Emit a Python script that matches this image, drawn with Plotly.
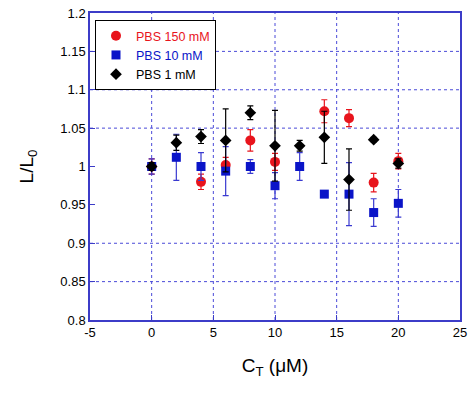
import plotly.graph_objects as go

# Data
conc = [0, 2, 4, 6, 8, 10, 12, 14, 16, 18, 20]

x_150 = [0, 4, 6, 8, 10, 14, 16, 18, 20]
y_150 = [1.000, 0.980, 1.002, 1.034, 1.006, 1.072, 1.063, 0.979, 1.007]
e_150 = [0.010, 0.010, 0.010, 0.014, 0.011, 0.015, 0.011, 0.012, 0.010]

y_10 = [1.000, 1.012, 1.000, 0.994, 1.000, 0.975, 1.000, 0.964, 0.964, 0.940, 0.952]
e_10 = [0.010, 0.030, 0.018, 0.032, 0.009, 0.017, 0.018, 0.003, 0.041, 0.018, 0.018]

y_1 = [1.000, 1.031, 1.039, 1.034, 1.070, 1.027, 1.027, 1.038, 0.983, 1.035, 1.004]
e_1 = [0.005, 0.010, 0.009, 0.041, 0.009, 0.046, 0.007, 0.034, 0.040, 0.003, 0.006]

names = ["PBS 150 mM", "PBS 10 mM", "PBS 1 mM"]
x_ticks = [-5, 0, 5, 10, 15, 20, 25]
x_tick_text = ["-5", "0", "5", "10", "15", "20", "25"]
y_ticks = [0.8, 0.85, 0.9, 0.95, 1.0, 1.05, 1.1, 1.15, 1.2]
y_tick_text = ["0.8", "0.85", "0.9", "0.95", "1", "1.05", "1.1", "1.15", "1.2"]

RED = "#e8141c"
BLUE = "#0a14c8"
BLUE_ERR = "#3a3ad0"
BLACK = "#000000"
AXIS = "#3c3cc8"
GRID = "#4a4ad8"

fig = go.Figure()

fig.add_trace(go.Scatter(
    x=x_150, y=y_150, mode="markers",
    name=f"<span style='color:{RED}'>{names[0]}</span>",
    marker=dict(symbol="circle", size=10, color=RED),
    error_y=dict(type="data", array=e_150, color=RED, thickness=1.2, width=3),
))
fig.add_trace(go.Scatter(
    x=conc, y=y_10, mode="markers",
    name=f"<span style='color:{BLUE}'>{names[1]}</span>",
    marker=dict(symbol="square", size=9, color=BLUE),
    error_y=dict(type="data", array=e_10, color=BLUE_ERR, thickness=1.2, width=3),
))
fig.add_trace(go.Scatter(
    x=conc, y=y_1, mode="markers",
    name=f"<span style='color:{BLACK}'>{names[2]}</span>",
    marker=dict(symbol="diamond", size=9, color=BLACK),
    error_y=dict(type="data", array=e_1, color=BLACK, thickness=1.2, width=3),
))

shapes = []
for gx in [0, 5, 10, 15, 20]:
    shapes.append(dict(type="line", xref="x", yref="paper", x0=gx, x1=gx, y0=0, y1=1,
                       line=dict(color=GRID, width=1, dash="dot"), layer="below"))
for gy in [0.85, 0.9, 1.05, 1.1, 1.15]:
    shapes.append(dict(type="line", xref="paper", yref="y", x0=0, x1=1, y0=gy, y1=gy,
                       line=dict(color=GRID, width=1, dash="dot"), layer="below"))

fig.update_layout(
    width=474, height=395,
    margin=dict(l=90, r=14, t=13, b=75, autoexpand=False),
    paper_bgcolor="white", plot_bgcolor="white",
    font=dict(family="Arial, Liberation Sans, sans-serif", color="black", size=13),
    shapes=shapes,
    showlegend=True,
    legend=dict(x=0.0135, y=0.977, xanchor="left", yanchor="top",
                bgcolor="white", bordercolor="black", borderwidth=1,
                font=dict(size=12.5), tracegroupgap=0, itemwidth=30),
    xaxis=dict(range=[-5, 25], tickvals=x_ticks, ticktext=x_tick_text,
               showgrid=False, zeroline=False, automargin=False,
               showline=True, linecolor=AXIS, linewidth=1.5, mirror=True,
               ticks="inside", tickcolor=AXIS, ticklen=5, ticklabeloverflow="allow",
               title=dict(text="C<sub>T</sub> (μM)", font=dict(size=19), standoff=19)),
    yaxis=dict(range=[0.8, 1.2], tickvals=y_ticks, ticktext=y_tick_text,
               showgrid=False, zeroline=False, automargin=False,
               showline=True, linecolor=AXIS, linewidth=1.5, mirror=True,
               ticks="inside", tickcolor=AXIS, ticklen=5, ticklabeloverflow="allow",
               title=dict(text="L/L<sub>0</sub>", font=dict(size=19), standoff=22)),
)

# remove the default 8px page margin so the figure fills the 474x395 window exactly
fig.write_html("out.html", config={"displayModeBar": False},
               post_script="document.body.style.margin='0';")
